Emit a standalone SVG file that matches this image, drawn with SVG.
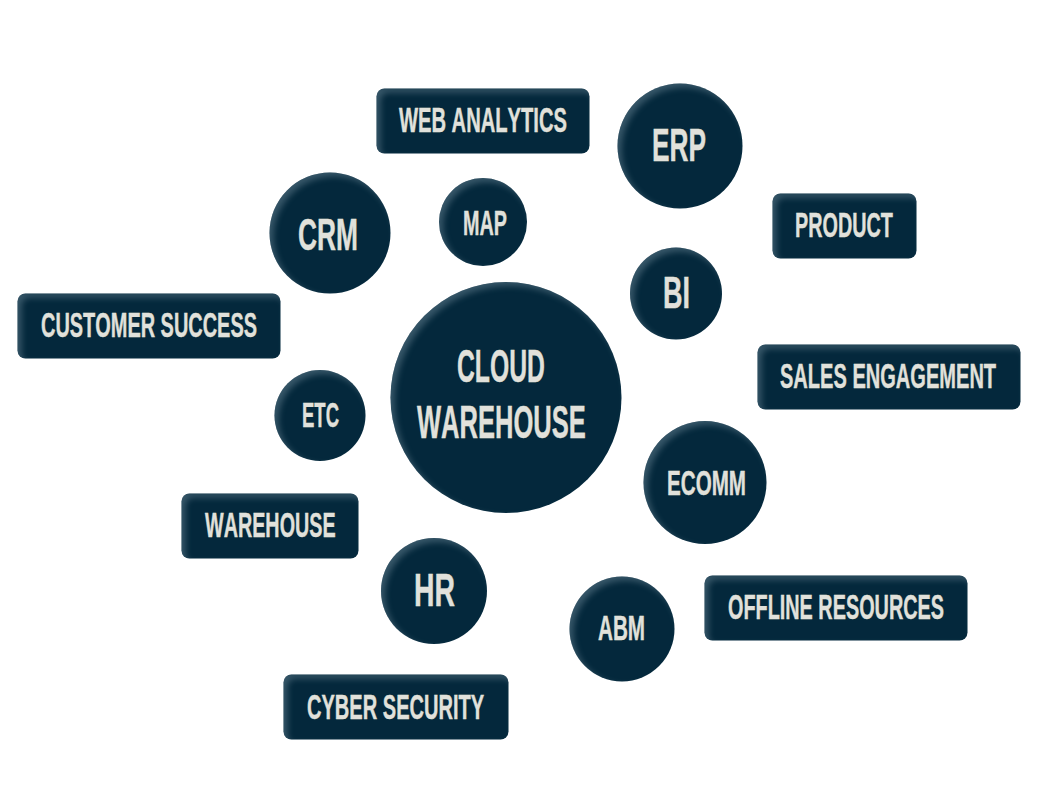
<svg xmlns="http://www.w3.org/2000/svg" width="1038" height="794" viewBox="0 0 1038 794">
<defs>
<style>
.n{fill:#04283c;filter:url(#g)}
.t{fill:#e1e1db;stroke:#e1e1db;stroke-width:.4px;font-family:"Liberation Sans",Arial,sans-serif;font-weight:700;font-kerning:none}
.s{font-size:35px}.m{font-size:46px}.l{font-size:47px}
</style>
<filter id="g" x="-10%" y="-10%" width="120%" height="120%" color-interpolation-filters="sRGB">
<feComponentTransfer in="SourceAlpha" result="inv"><feFuncA type="table" tableValues="1 0"/></feComponentTransfer>
<feOffset in="inv" dx="3.500" dy="3.500" result="o"/>
<feGaussianBlur in="o" stdDeviation="3" result="b"/>
<feFlood flood-color="#7f98a6" flood-opacity=".42"/>
<feComposite in2="b" operator="in"/>
<feComposite in2="SourceAlpha" operator="in" result="glow"/>
<feMerge><feMergeNode in="SourceGraphic"/><feMergeNode in="glow"/></feMerge>
</filter>
</defs>
<rect width="1038" height="794" fill="#fff"/>
<g id="web-analytics"><rect class="n" x="376.500" y="88.500" width="213" height="65" rx="8"/><text class="t s" transform="translate(399 132) scale(.576 1)">WEB ANALYTICS</text></g>
<g id="product"><rect class="n" x="772.500" y="193.500" width="144" height="65" rx="8"/><text class="t s" transform="translate(795 237) scale(.566 1)">PRODUCT</text></g>
<g id="customer-success"><rect class="n" x="17.500" y="293.500" width="263" height="65" rx="8"/><text class="t s" transform="translate(41 337) scale(.57 1)">CUSTOMER SUCCESS</text></g>
<g id="sales-engagement"><rect class="n" x="757.500" y="344.500" width="263" height="65" rx="8"/><text class="t s" transform="translate(780 388) scale(.573 1)">SALES ENGAGEMENT</text></g>
<g id="warehouse"><rect class="n" x="181.500" y="493.500" width="177" height="65" rx="8"/><text class="t s" transform="translate(205 537) scale(.565 1)">WAREHOUSE</text></g>
<g id="offline-resources"><rect class="n" x="704.500" y="575.500" width="263" height="65" rx="8"/><text class="t s" transform="translate(728 619) scale(.567 1)">OFFLINE RESOURCES</text></g>
<g id="cyber-security"><rect class="n" x="283.500" y="674.500" width="225" height="65" rx="8"/><text class="t s" transform="translate(307 719) scale(.573 1)">CYBER SECURITY</text></g>
<g id="erp"><circle class="n" cx="680" cy="146" r="62.500"/><text class="t l" transform="translate(652 161) scale(.559 1)">ERP</text></g>
<g id="crm"><circle class="n" cx="330" cy="233" r="60.500"/><text class="t" style="font-size:44px" transform="translate(298 250) scale(.599 1)">CRM</text></g>
<g id="map"><circle class="n" cx="483" cy="222" r="44"/><text class="t s" transform="translate(463 234.500) scale(.566 1)">MAP</text></g>
<g id="bi"><circle class="n" cx="676" cy="293.500" r="46"/><text class="t" style="font-size:45px" transform="translate(663 308) scale(.6 1)">BI</text></g>
<g id="etc"><circle class="n" cx="320" cy="415.500" r="45.500"/><text class="t s" transform="translate(302 427) scale(.529 1)">ETC</text></g>
<g id="ecomm"><circle class="n" cx="705" cy="482.500" r="61.500"/><text class="t s" transform="translate(667 495) scale(.589 1)">ECOMM</text></g>
<g id="hr"><circle class="n" cx="434" cy="591" r="53"/><text class="t l" transform="translate(414 606) scale(.604 1)">HR</text></g>
<g id="abm"><circle class="n" cx="622" cy="629" r="52.500"/><text class="t s" transform="translate(598 640) scale(.59 1)">ABM</text></g>
<g id="cloud-warehouse"><circle class="n" cx="506" cy="397.500" r="115.500"/><text class="t m" transform="translate(457 382) scale(.538 1)">CLOUD</text><text class="t m" transform="translate(417 438) scale(.555 1)">WAREHOUSE</text></g>
</svg>
